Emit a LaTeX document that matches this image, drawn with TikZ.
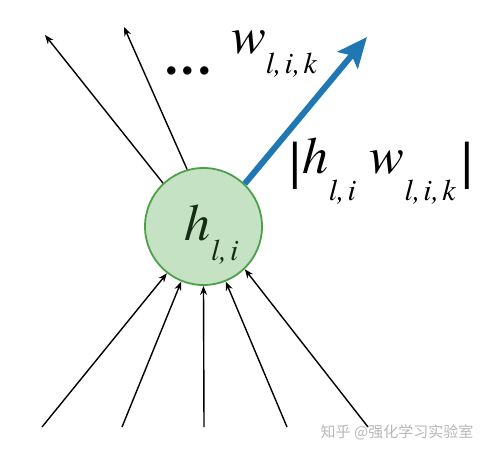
\documentclass[tikz,border=0pt]{standalone}
\usepackage{fontspec}
\newfontfamily\tms{texgyretermes-italic.otf}
\newfontfamily\tmsr{texgyretermes-regular.otf}
\newfontfamily\tmsb{texgyretermes-bold.otf}
\newfontfamily\cjk{Noto Sans CJK SC}
\usetikzlibrary{arrows.meta}
\definecolor{nodefill}{RGB}{197,227,196}
\definecolor{nodedraw}{RGB}{76,160,72}
\definecolor{wblue}{RGB}{31,119,180}
\definecolor{hgreen}{RGB}{20,45,20}
\newcommand{\bigf}{\tms\fontsize{52}{52}\selectfont}
\newcommand{\subf}{\tms\fontsize{30}{30}\selectfont}
\newcommand{\vbar}{\raisebox{-7pt}{\tmsr\fontsize{58}{58}\selectfont|}}
\tikzset{
  neuron/.style={circle, draw=nodedraw, fill=nodefill, line width=1.8pt, minimum size=117pt, inner sep=0pt},
  thin arrow/.style={-{Stealth[length=9pt,width=7pt]}, line width=1.4pt, black},
  blue arrow/.style={-{Stealth[length=30pt,width=26pt,inset=6pt]}, line width=6pt, wblue},
  lbl/.style={inner sep=0pt, anchor=base west},
  wmark/.style={inner sep=0pt, text=black!28, font=\cjk\fontsize{15}{15}\selectfont}
}
\begin{document}
\begin{tikzpicture}[x=1pt,y=-1pt]
\useasboundingbox (0,0) rectangle (482,455);
\fill[white] (0,0) rectangle (482,455);
% outgoing ends
\coordinate (o1) at (45,35);
\coordinate (o2) at (124,27);
\coordinate (ob) at (367,37);
% incoming starts
\coordinate (i1) at (42,427);
\coordinate (i2) at (122,427);
\coordinate (i3) at (204,427);
\coordinate (i4) at (287,427);
\coordinate (i5) at (368,427);
\node[neuron] (h) at (203.5,226.5) {};
\node[lbl, text=hgreen] (hl) at (184,240) {\bigf h\raisebox{-20pt}{\subf\kern1pt l,\kern3pt i}};
\draw[thin arrow] (h.133) -- (o1);
\draw[thin arrow] (h.106) -- (o2);
\draw[blue arrow] (h.46) -- (ob);
\draw[thin arrow] (i1) -- (h.232);
\draw[thin arrow] (i2) -- (h.248);
\draw[thin arrow] (i3) -- (h.270);
\draw[thin arrow] (i4) -- (h.292);
\draw[thin arrow] (i5) -- (h.314);
\node[lbl] (dots) at (165,74) {\tmsb\fontsize{50}{50}\selectfont.\kern4pt.\kern4pt.};
\node[lbl] (wlab) at (231,53) {\bigf w\raisebox{-20pt}{\subf l,\kern3pt i,\kern3pt k}};
\node[lbl] (prod) at (289,173) {\vbar\kern2pt\bigf h\raisebox{-27pt}{\subf l,\kern3pt i}\kern14pt w\raisebox{-27pt}{\subf l,\kern3pt i,\kern3pt k}\kern6pt\vbar};
\node[wmark] (wm) at (397,432) {知乎 @强化学习实验室};
\end{tikzpicture}
\end{document}
